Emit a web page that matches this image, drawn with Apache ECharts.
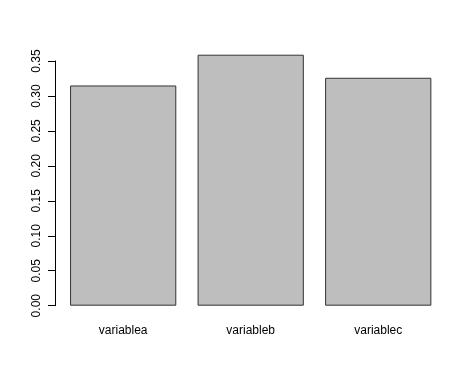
<!DOCTYPE html>
<html><head><meta charset="utf-8">
<script src="https://cdn.jsdelivr.net/npm/echarts@6/dist/echarts.min.js"></script>
<style>html,body{margin:0;padding:0;background:#fff}#c{width:474px;height:378px}</style>
</head><body><div id="c"></div>
<script>
const categories = ["variablea", "variableb", "variablec"];
const values = [0.315, 0.359, 0.326];
const yTicks = ["0.00","0.05","0.10","0.15","0.20","0.25","0.30","0.35"];

const chart = echarts.init(document.getElementById('c'), null, {renderer: 'canvas'});
chart.setOption({
  animation: false,
  backgroundColor: '#ffffff',
  grid: {left: 59.4, right: 32, top: 61, bottom: 72.3},
  xAxis: {
    type: 'category',
    data: categories,
    axisLine: {show: false},
    axisTick: {show: false},
    axisLabel: {color: '#000', fontSize: 12, fontFamily: 'Liberation Sans, Arial, sans-serif', margin: 19}
  },
  yAxis: {
    type: 'value',
    min: 0, max: 0.35, interval: 0.05,
    offset: 4.4,
    splitLine: {show: false},
    axisLine: {show: true, lineStyle: {color: '#000', width: 1}},
    axisTick: {show: true, length: 7, lineStyle: {color: '#000'}},
    axisLabel: {
      color: '#000', fontSize: 12, fontFamily: 'Liberation Sans, Arial, sans-serif',
      rotate: 90, margin: 12,
      formatter: function (v) { return yTicks[Math.round(v / 0.05)]; }
    }
  },
  series: [{
    type: 'bar',
    data: values,
    clip: false,
    barWidth: '83.3%',
    itemStyle: {color: '#BEBEBE', borderColor: '#333', borderWidth: 1}
  }]
});
</script></body></html>
